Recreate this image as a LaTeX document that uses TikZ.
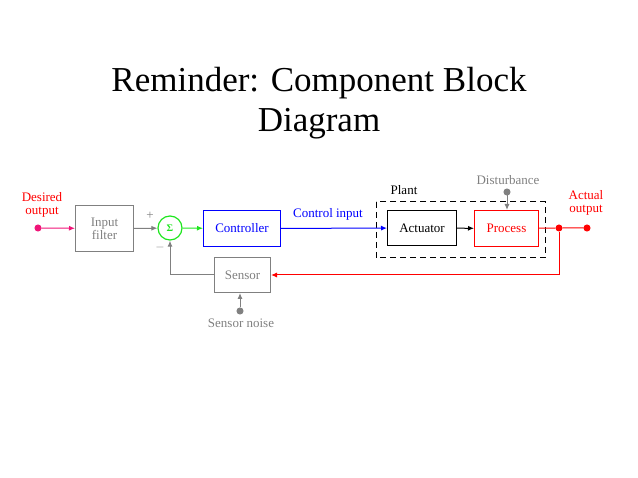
\documentclass[tikz,border=0pt]{standalone}
\usepackage{fontspec}
\setmainfont{Liberation Serif}
\usetikzlibrary{arrows.meta}
\definecolor{dgray}{RGB}{128,128,128}
\definecolor{ggreen}{RGB}{30,230,30}
\definecolor{pink}{RGB}{240,20,120}
\begin{document}
\begin{tikzpicture}[x=1pt,y=-1pt,
 lbl/.style={font=\fontsize{13}{13}\selectfont,align=center,inner sep=0},
 blk/.style={draw,line width=1pt,font=\fontsize{13}{13}\selectfont,align=center,inner sep=0,anchor=north west},
 arr/.style={line width=1pt,-{Latex[length=6pt,width=5pt]}},
 term/.style={circle,draw,line width=1pt,fill=white,inner sep=0,minimum size=6pt}]
\useasboundingbox (0,0) rectangle (638,478);
\node[font=\fontsize{35}{40}\selectfont,align=center] (title) at (319,103) {Reminder: Component Block\\Diagram};
% blocks
\node[blk,dgray,text=dgray,minimum width=58pt,minimum height=46pt] (filt) at (75,205) {Input\\filter};
\node[circle,draw=ggreen,line width=1.2pt,minimum size=24pt,inner sep=0,text=ggreen,font=\bfseries] (sum) at (170,228) {\textbf{Σ}};
\node[blk,blue,text=blue,minimum width=77pt,minimum height=36pt] (ctrl) at (203,210) {Controller};
\node[blk,black,minimum width=69pt,minimum height=35pt] (act) at (387,210) {Actuator};
\node[blk,red,text=red,minimum width=64pt,minimum height=36pt] (proc) at (474,210) {Process};
\node[blk,dgray,text=dgray,minimum width=56pt,minimum height=35pt] (sens) at (214,257) {Sensor};
\draw[dashed,line width=1pt,dash pattern=on 6pt off 4pt] (376,202) rectangle (545,258);
\node[lbl] (plant) at (404,190) {Plant};
% terminals
\node[term,pink] (din) at (38,228) {};
\node[lbl,red] (dtext) at (42,205) {Desired\\output};
\node[term,dgray] (dist) at (507,192) {};
\node[lbl,dgray] (dtxt) at (508,180) {Disturbance};
\node[circle,fill=red,inner sep=0,minimum size=7pt] (dot) at (559,228) {};
\node[term,red] (aout) at (587,228) {};
\node[lbl,red] (atxt) at (586,203) {Actual\\output};
\node[term,dgray] (noise) at (240,311) {};
\node[lbl,dgray] (ntxt) at (241,323) {Sensor noise};
\node[lbl,dgray] (plus) at (150,216) {+};
\node[lbl,dgray] (minus) at (160,248) {$-$};
\node[lbl,blue] (cin) at (328,214) {Control input};
% connectors
\draw[arr,pink] (din) -- (filt);
\draw[arr,dgray] (filt.east) -- (sum);
\draw[arr,ggreen] (sum) -- (ctrl);
\draw[arr,blue] (ctrl) -- (act);
\draw[arr,black] (act) -- (proc);
\draw[arr,dgray] (dist) -- (proc.north -| dist);
\draw[line width=1pt,red] (proc) -- (dot) -- (aout);
\draw[arr,red] (dot) |- (sens.east);
\draw[arr,dgray] (sens.west) -| (sum.south);
\draw[arr,dgray] (noise) -- (sens.south -| noise);
\end{tikzpicture}
\end{document}
